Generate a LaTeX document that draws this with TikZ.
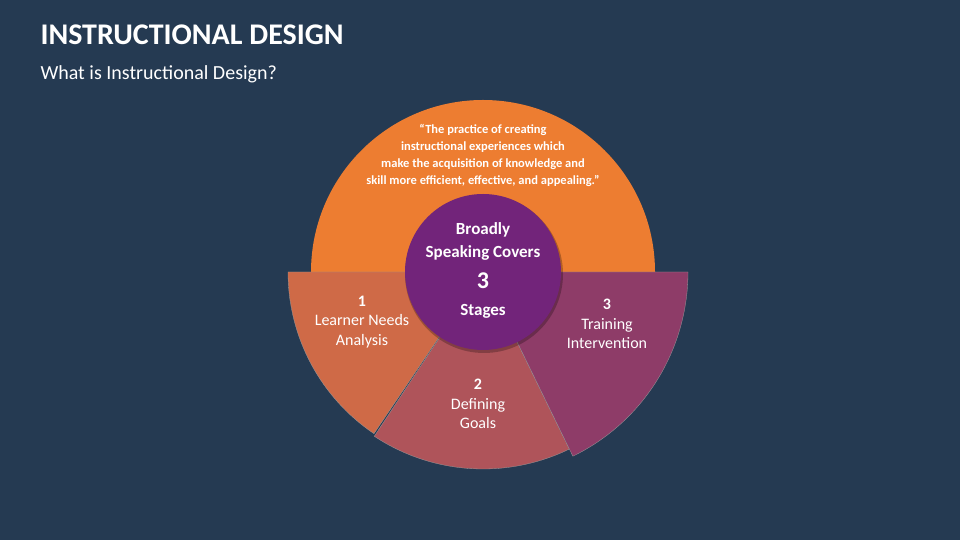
\documentclass[tikz,border=0pt]{standalone}
\usepackage{fontspec}
\setmainfont{Carlito}
\usetikzlibrary{calc}
\begin{document}
\begin{tikzpicture}[x=1pt,y=1pt,
  lbl/.style={text=white,align=center,font=\fontsize{16}{19.5}\selectfont},
  seg/.style={draw=black!40,line width=0.3pt}]
\definecolor{bg}{HTML}{253A52}
\definecolor{orng}{HTML}{ED7D31}
\definecolor{sone}{HTML}{CF6A47}
\definecolor{stwo}{HTML}{AF545A}
\definecolor{sthree}{HTML}{8E3C68}
\definecolor{purp}{HTML}{72247A}
\fill[bg] (0,0) rectangle (960,540);
\useasboundingbox (0,0) rectangle (960,540);
\coordinate (c) at (483,268);
\node[anchor=west,text=white,font=\fontsize{30}{34}\bfseries\selectfont] (title) at (37,505) {INSTRUCTIONAL DESIGN};
\node[anchor=west,text=white,font=\fontsize{20}{24}\selectfont] (sub) at (37,466) {What is Instructional Design?};
% orange half disc
\fill[orng] (c) ++(172,0) arc (0:180:172) -- cycle;
% segments
\fill[sone,seg] (c) -- ++(180:195) arc (180:236:195) -- cycle;
\fill[stwo,seg] (c) -- ++(236.5:197) arc (236.5:296:197) -- cycle;
\fill[sthree,seg] (c) -- ++(296:205) arc (296:360:205) -- cycle;
% center circle
\fill[black,opacity=0.25] ($(c)+(1,-2)$) circle (79);
\node[circle,fill=purp,minimum size=156,inner sep=0] (mid) at (c) {};
\node[text=white,align=center,font=\fontsize{12.5}{17}\bfseries\selectfont] (quote) at (483,385)
 {“The practice of creating\\instructional experiences which\\make the acquisition of knowledge and\\skill more efficient, effective, and appealing."};
\node[text=white,align=center,font=\fontsize{17}{23}\bfseries\selectfont] (mt) at (483,299) {Broadly\\Speaking Covers};
\node[text=white,font=\fontsize{24}{26}\bfseries\selectfont] (mn) at (483,259) {3};
\node[text=white,font=\fontsize{17}{20}\bfseries\selectfont] (ms) at (483,229) {Stages};
\node[lbl] (l1) at (362,218) {\textbf{1}\\Learner Needs\\Analysis};
\node[lbl] (l2) at (478,136) {\textbf{2}\\Defining\\Goals};
\node[lbl] (l3) at (607,216) {\textbf{3}\\Training\\Intervention};
\end{tikzpicture}
\end{document}
